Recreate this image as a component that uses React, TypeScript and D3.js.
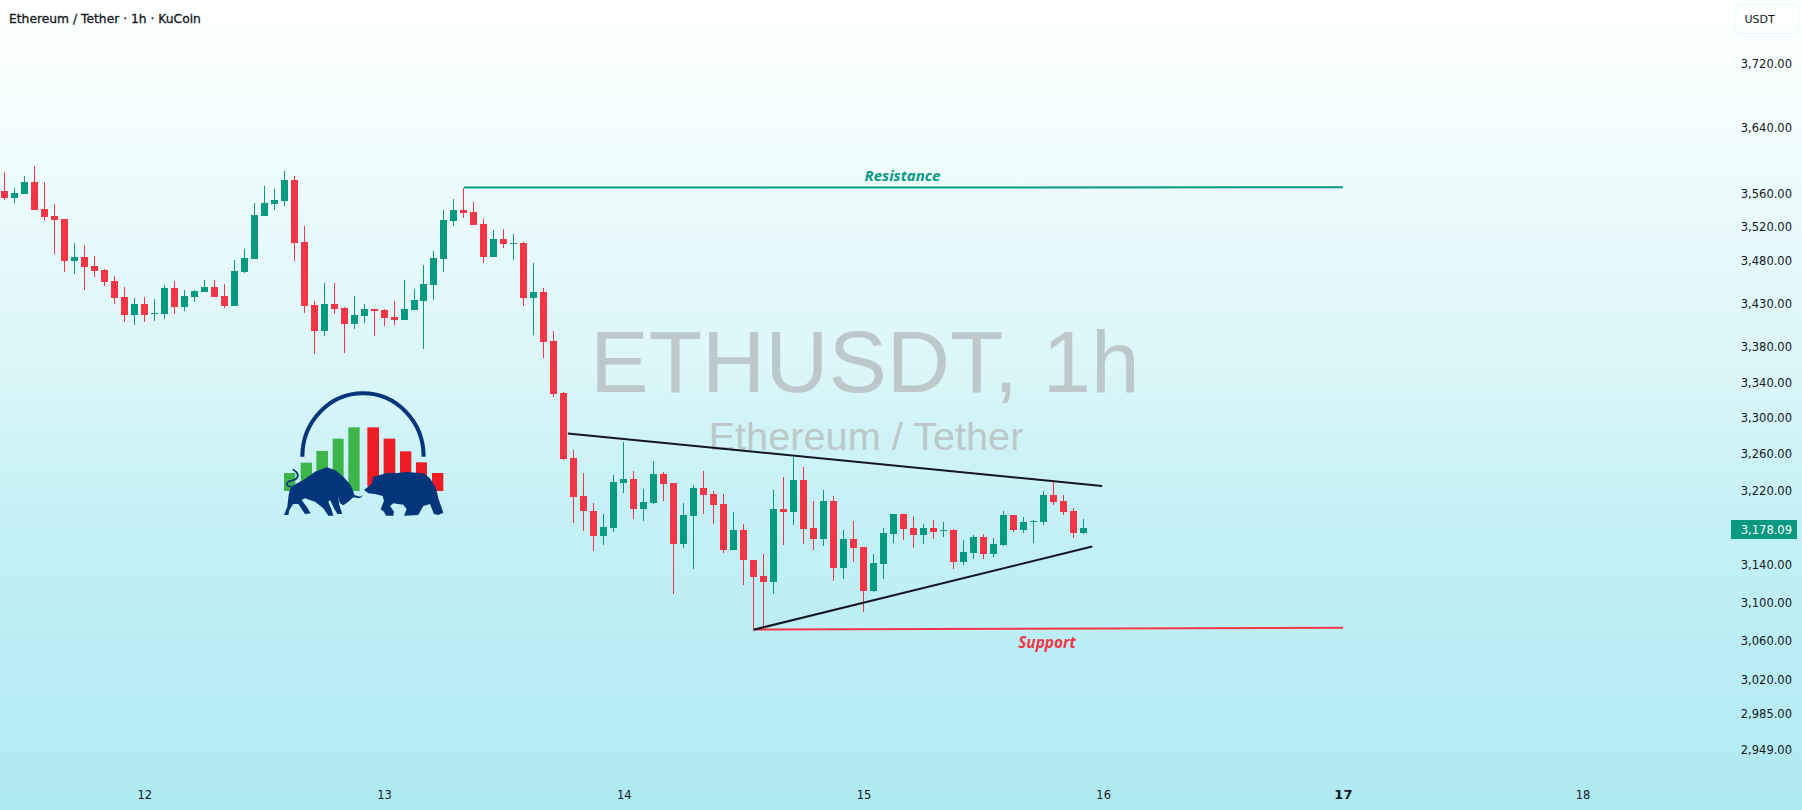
import React from "react";
import * as d3 from "d3";

const opens = [3562.5,3554.1,3558.9,3573.5,3540.9,3532.5,3529.0,3479.1,3483.8,3473.3,3468.6,3455.7,3437.1,3416.3,3429.0,3417.4,3417.4,3447.5,3425.5,3437.1,3442.9,3448.7,3438.3,3426.6,3466.2,3481.5,3532.5,3547.0,3550.6,3575.8,3501.6,3427.8,3397.8,3429.0,3424.4,3405.8,3415.0,3423.1,3422.0,3413.9,3410.4,3422.0,3432.5,3451.1,3481.5,3526.6,3539.7,3537.4,3523.0,3483.8,3505.1,3499.2,3500.4,3435.9,3442.9,3386.2,3327.2,3254.9,3213.3,3197.2,3170.3,3178.9,3227.5,3231.8,3199.3,3205.7,3237.4,3227.5,3161.8,3191.7,3222.1,3215.6,3204.7,3155.3,3176.7,3144.7,3126.8,3120.5,3199.3,3196.1,3230.8,3178.5,3166.7,3207.6,3135.8,3166.7,3158.2,3111.5,3140.1,3172.0,3193.6,3178.5,3171.0,3178.5,3175.3,3176.4,3142.2,3151.7,3168.9,3150.7,3160.3,3192.6,3176.4,3185.3,3185.0,3214.2,3207.6,3196.8,3173.1];
const highs = [3585.5,3566.2,3580.7,3592.8,3573.5,3547.0,3529.0,3500.4,3498.1,3485.1,3469.8,3461.5,3448.7,3435.9,3437.1,3434.8,3451.1,3455.7,3445.2,3445.2,3456.9,3456.9,3452.2,3480.4,3493.4,3548.1,3568.6,3565.0,3586.8,3580.7,3520.6,3432.5,3453.3,3453.3,3425.5,3438.3,3429.0,3423.1,3423.1,3432.5,3456.9,3446.4,3474.4,3491.0,3539.7,3552.9,3566.2,3549.3,3529.0,3515.9,3517.0,3511.1,3501.6,3476.8,3447.5,3397.7,3328.3,3263.7,3238.4,3205.7,3193.9,3236.2,3272.5,3240.6,3220.9,3251.6,3239.5,3227.5,3205.7,3225.3,3240.6,3218.8,3215.6,3196.1,3183.2,3144.7,3150.1,3219.8,3234.1,3256.0,3245.0,3207.6,3219.7,3213.1,3176.4,3186.1,3158.2,3150.7,3178.5,3193.6,3193.6,3191.4,3182.8,3187.1,3185.0,3177.4,3165.6,3171.0,3172.0,3167.8,3196.8,3192.6,3190.3,3187.1,3218.6,3230.6,3214.2,3200.0,3188.2];
const lows = [3551.7,3548.1,3558.9,3539.7,3526.6,3487.4,3466.2,3463.9,3445.2,3460.4,3449.9,3429.0,3408.2,3404.7,3408.2,3409.3,3411.7,3417.4,3420.9,3431.3,3442.9,3437.1,3424.4,3426.6,3465.1,3481.5,3532.5,3539.7,3544.5,3479.1,3418.5,3371.5,3392.1,3417.4,3372.6,3400.1,3407.1,3392.1,3403.6,3404.7,3410.4,3422.0,3377.3,3433.6,3466.2,3520.6,3530.2,3521.8,3476.8,3483.8,3494.5,3480.4,3426.6,3393.2,3367.0,3322.7,3252.7,3184.2,3175.7,3154.3,3160.7,3174.6,3216.6,3188.5,3186.4,3204.7,3208.0,3107.9,3157.5,3134.2,3193.9,3183.2,3151.2,3155.3,3117.3,3070.5,3071.6,3107.9,3160.7,3182.1,3161.8,3154.9,3159.2,3122.0,3124.2,3142.2,3089.5,3110.4,3124.2,3162.4,3165.6,3157.1,3161.3,3166.7,3168.9,3134.7,3138.9,3145.3,3145.3,3147.4,3159.2,3174.2,3173.1,3162.4,3181.7,3203.4,3192.6,3167.8,3172.0];
const closes = [3554.1,3560.2,3573.5,3539.7,3531.3,3527.7,3479.1,3483.8,3472.2,3467.5,3454.6,3435.9,3416.3,3429.0,3416.3,3418.5,3447.5,3425.5,3438.3,3444.0,3448.7,3437.1,3426.6,3467.5,3482.7,3533.8,3548.1,3551.7,3575.8,3500.4,3426.6,3397.8,3429.0,3423.1,3405.8,3416.3,3423.1,3420.9,3412.8,3410.4,3423.1,3433.6,3452.2,3482.7,3527.7,3539.7,3536.1,3521.8,3483.8,3505.1,3499.2,3500.4,3435.9,3442.9,3385.2,3326.1,3253.7,3212.3,3197.2,3170.3,3180.0,3228.6,3231.8,3199.3,3206.9,3237.4,3226.4,3161.8,3192.8,3222.1,3214.5,3203.6,3155.3,3176.7,3143.7,3125.8,3120.5,3199.3,3196.1,3230.8,3177.8,3166.7,3207.6,3135.8,3166.7,3157.1,3111.5,3141.1,3173.1,3193.6,3177.4,3171.0,3178.5,3174.2,3176.4,3142.2,3152.8,3168.9,3150.7,3161.3,3192.6,3176.4,3185.0,3186.4,3214.2,3206.6,3195.8,3173.1,3178.09];

const priceTicks = [3720,3640,3560,3520,3480,3430,3380,3340,3300,3260,3220,3140,3100,3060,3020,2985,2949];
const dayTicks = [{ label: "12", i: 14 },{ label: "13", i: 38 },{ label: "14", i: 62 },{ label: "15", i: 86 },{ label: "16", i: 110 },{ label: "17", i: 134, bold: true },{ label: "18", i: 158 }];

const lastPrice = 3178.09;
const resistanceLine = [[46, 3566.8],[134, 3567.0]];
const upperTrend = [[56.4, 3281.8],[109.9, 3224.0]];
const lowerTrend = [[75, 3070.9],[108.9, 3158.5]];
const supportLine = [[75, 3071.0],[134, 3072.9]];

const UP = "#089981";
const DOWN = "#f23645";
const INK = "#131722";
const AXIS_FONT = "'DejaVu Sans', sans-serif";

const y = d3.scaleLog().domain([2949, 3720]).range([749.3, 63.3]);
const x = d3.scaleLinear().domain([0, 134]).range([4.5, 1342.9]);
const trend = d3.line<number[]>().x((d) => x(d[0])).y((d) => y(d[1]));
const fmt = d3.format(",.2f");

const greens = [[72,279,106,333],[122,248,156,340],[169,213,204,340],[218,176,251,340],[265,142,299,333]];
const reds = [[322,142,357,320],[371,176,406,320],[420,214,454,320],[468,247,501,320],[516,279,550,333]];
const NAVY = "#03357a";
const BULL = "M72 405 L82 380 L86 345 L92 320 L130 300 L165 275 L200 262 L225 270 L250 290 L272 315 L280 335 L283 345 L300 350 L310 345 L300 355 L280 352 L265 365 L250 376 L240 370 L235 350 L238 375 L247 402 L232 402 L222 385 L210 360 L205 365 L215 390 L220 407 L205 407 L190 385 L165 365 L135 355 L125 360 L140 380 L152 400 L135 402 L115 372 L100 372 L88 390 L85 405 Z";
const BULL_TAIL = "M92 320 C75 318 78 305 95 302 C115 298 118 285 108 275 L98 268";
const BEAR = "M312 330 L335 312 L340 290 L360 285 L385 278 L405 280 L440 276 L490 280 L510 295 L528 325 L535 355 L550 398 L535 405 L522 402 L510 372 L490 378 L475 405 L432 407 L440 388 L430 374 L400 370 L390 378 L402 395 L400 407 L378 407 L372 395 L362 388 L372 362 L368 348 L345 342 L325 340 Z";

function Logo() {
  return (
    <g transform="translate(260,380) scale(0.3333)">
      <path d="M127 230 A182 190 0 0 1 491 230" fill="none" stroke={NAVY} strokeWidth={12} />
      {greens.map((b, i) => <rect key={i} x={b[0]} y={b[1]} width={b[2]-b[0]} height={b[3]-b[1]} fill="#3cb54a" />)}
      {reds.map((b, i) => <rect key={i} x={b[0]} y={b[1]} width={b[2]-b[0]} height={b[3]-b[1]} fill="#ee1c25" />)}
      <path d={BULL_TAIL} fill="none" stroke={NAVY} strokeWidth={5} />
      <path d={BULL} fill={NAVY} />
      <path d={BEAR} fill={NAVY} />
    </g>
  );
}

export default function App() {
  return (
    <svg width={1802} height={810} viewBox="0 0 1802 810" style={{ position: "fixed", left: 0, top: 0, display: "block" }}>
      <defs>
        <linearGradient id="bg" x1="0" y1="0" x2="0" y2="1">
          <stop offset="0" stopColor="#ffffff" />
          <stop offset="0.17" stopColor="#f1fdfd" />
          <stop offset="0.45" stopColor="#dcf6f9" />
          <stop offset="0.62" stopColor="#c6f1f6" />
          <stop offset="1" stopColor="#aeeaf2" />
        </linearGradient>
      </defs>
      <rect width={1802} height={810} fill="url(#bg)" />

      <text x={865} y={392} textAnchor="middle" fontFamily="'Liberation Sans', Arial, sans-serif" fontSize={87.5} fill="#bcc8c9">ETHUSDT, 1h</text>
      <text x={866} y={450} textAnchor="middle" fontFamily="'Liberation Sans', Arial, sans-serif" fontSize={39.7} fill="#bcc8c9">Ethereum / Tether</text>

      <Logo />

      {closes.map((c, i) => {
        const col = c >= opens[i] ? UP : DOWN;
        const cx = Math.round(x(i) - 0.5) + 0.5;
        const top = Math.round(y(Math.max(opens[i], c)));
        const bot = Math.round(y(Math.min(opens[i], c)));
        return (
          <g key={i}>
            <line x1={cx} x2={cx} y1={Math.round(y(highs[i]))} y2={Math.round(y(lows[i]))} stroke={col} strokeWidth={1} />
            <rect x={cx - 3.5} y={top} width={7} height={Math.max(1, bot - top)} fill={col} />
          </g>
        );
      })}

      <path d={trend(resistanceLine)!} stroke={UP} strokeWidth={2} fill="none" />
      <path d={trend(supportLine)!} stroke={DOWN} strokeWidth={2} fill="none" />
      <path d={trend(upperTrend)!} stroke={INK} strokeWidth={2} fill="none" />
      <path d={trend(lowerTrend)!} stroke={INK} strokeWidth={2} fill="none" />

      <text x={902.5} y={180.5} textAnchor="middle" fontFamily="'Open Sans', sans-serif" fontStyle="italic" fontWeight={700} fontSize={15} fill={UP}>Resistance</text>
      <text x={1047} y={647.5} textAnchor="middle" fontFamily="'Open Sans', sans-serif" fontStyle="italic" fontWeight={700} fontSize={15.4} fill={DOWN}>Support</text>

      <text x={9} y={22.5} fontFamily={AXIS_FONT} fontSize={12.3} fill={INK} stroke={INK} strokeWidth={0.3}>Ethereum / Tether · 1h · KuCoin</text>

      <rect x={1734.5} y={4.5} width={64} height={29} rx={5} fill="none" stroke="#e4f9fb" />
      <text x={1744.5} y={22.5} fontFamily={AXIS_FONT} fontSize={11} fill={INK}>USDT</text>

      {priceTicks.map((p) => (
        <text key={p} x={1792} y={y(p) + 0.8} dy="0.36em" textAnchor="end" fontFamily={AXIS_FONT} fontSize={11.5} fill={INK}>{fmt(p)}</text>
      ))}

      <rect x={1731} y={520} width={66} height={19} fill={UP} />
      <text x={1792} y={529.5} dy="0.36em" textAnchor="end" fontFamily={AXIS_FONT} fontSize={11.5} fill="#ffffff">{fmt(lastPrice)}</text>

      {dayTicks.map((d) => (
        <text key={d.label} x={x(d.i) + 0.5} y={798.5} textAnchor="middle" fontFamily={AXIS_FONT} fontSize={d.bold ? 13 : 11.5} fontWeight={d.bold ? 700 : 400} fill={INK}>{d.label}</text>
      ))}
    </svg>
  );
}
